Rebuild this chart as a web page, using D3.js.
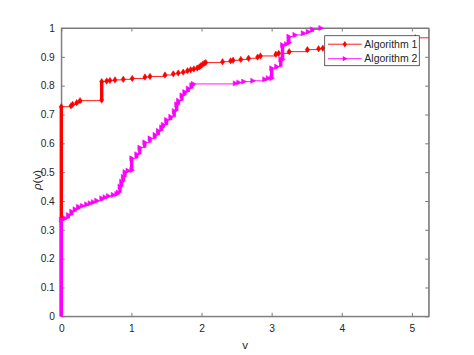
<!DOCTYPE html>
<html><head><meta charset="utf-8">
<script src="https://cdn.jsdelivr.net/npm/d3@7"></script>
<style>html,body{margin:0;padding:0;background:#fff;}svg{display:block;}</style>
</head><body>
<svg id="chart" width="474" height="355"></svg>
<script>
// ---- data ----
const seriesNames = ["Algorithm 1", "Algorithm 2"];
const xTicks = [0, 1, 2, 3, 4, 5];
const yTicks = [0, 0.1, 0.2, 0.3, 0.4, 0.5, 0.6, 0.7, 0.8, 0.9, 1];
const xMax = 5.24;

const alg1V   = [0, 0, 0.138, 0.162, 0.22, 0.267, 0.576, 0.576, 0.647, 0.694, 0.766, 0.884, 1.012, 1.193, 1.265, 1.479, 1.597, 1.668, 1.739, 1.80, 1.845, 1.89, 1.94, 1.97, 1.99, 2.016, 2.04, 2.06, 2.30, 2.415, 2.45, 2.56, 2.67, 2.80, 2.84, 3.06, 3.10, 3.25, 3.51, 3.67, 3.73, 4.2, 4.8, 5.05];
const alg1Rho = [0, 0.727, 0.730, 0.735, 0.741, 0.748, 0.750, 0.814, 0.816, 0.818, 0.820, 0.822, 0.825, 0.830, 0.832, 0.837, 0.841, 0.844, 0.847, 0.852, 0.855, 0.858, 0.861, 0.865, 0.869, 0.874, 0.878, 0.880, 0.883, 0.886, 0.888, 0.891, 0.895, 0.899, 0.903, 0.909, 0.912, 0.918, 0.925, 0.928, 0.930, 0.945, 0.958, 0.966];

const alg2V   = [0, 0, 0.053, 0.10, 0.148, 0.195, 0.243, 0.30, 0.36, 0.41, 0.456, 0.505, 0.576, 0.623, 0.67, 0.74, 0.79, 0.81, 0.837, 0.86, 0.884, 0.908, 0.95, 1.004, 1.004, 1.075, 1.12, 1.19, 1.265, 1.336, 1.383, 1.43, 1.454, 1.50, 1.56, 1.61, 1.645, 1.67, 1.72, 1.76, 1.81, 1.86, 1.88, 2.48, 2.53, 2.60, 2.73, 2.90, 2.95, 3.0, 3.0, 3.07, 3.13, 3.155, 3.155, 3.21, 3.245, 3.245, 3.33, 3.45, 3.52, 3.58, 3.70];
const alg2Rho = [0, 0.335, 0.340, 0.351, 0.363, 0.371, 0.380, 0.383, 0.388, 0.392, 0.396, 0.401, 0.409, 0.413, 0.417, 0.421, 0.424, 0.429, 0.450, 0.467, 0.484, 0.500, 0.505, 0.507, 0.548, 0.562, 0.585, 0.603, 0.617, 0.629, 0.643, 0.655, 0.664, 0.681, 0.692, 0.712, 0.735, 0.748, 0.766, 0.778, 0.790, 0.801, 0.806, 0.808, 0.811, 0.814, 0.817, 0.822, 0.826, 0.826, 0.860, 0.866, 0.891, 0.891, 0.941, 0.944, 0.950, 0.970, 0.976, 0.982, 0.987, 0.995, 1.0];

const colors = ["#ff0000", "#ff00ff"];

// ---- layout ----
const svg = d3.select("#chart");
const pL = 61.3, pR = 428.7, pT = 28, pB = 316.3;
const x = d3.scaleLinear().domain([0, xMax]).range([pL, pR]);
const y = d3.scaleLinear().domain([0, 1]).range([pB, pT]);
const axisColor = "#7a7a7a", textColor = "#262626";
const font = "'Liberation Sans', Arial, Helvetica, sans-serif";

// axes box + ticks
const gx = svg.append("g").attr("transform", `translate(0,${pB})`)
  .call(d3.axisBottom(x).tickValues(xTicks).tickSizeInner(-3.5).tickSizeOuter(0).tickPadding(8.5).tickFormat(d3.format("d")));
const gxt = svg.append("g").attr("transform", `translate(0,${pT})`)
  .call(d3.axisTop(x).tickValues(xTicks).tickSizeInner(-3.5).tickSizeOuter(0).tickFormat(""));
const gy = svg.append("g").attr("transform", `translate(${pL},0)`)
  .call(d3.axisLeft(y).tickValues(yTicks).tickSizeInner(-3.5).tickSizeOuter(0).tickPadding(6.5).tickFormat(d => d === 0 ? "0" : d === 1 ? "1" : d3.format(".1f")(d)));
const gyr = svg.append("g").attr("transform", `translate(${pR},0)`)
  .call(d3.axisRight(y).tickValues(yTicks).tickSizeInner(-3.5).tickSizeOuter(0).tickFormat(""));
[gx, gxt, gy, gyr].forEach(g => {
  g.selectAll("path.domain").attr("stroke", axisColor).attr("stroke-width", 1);
  g.selectAll(".tick line").attr("stroke", axisColor).attr("stroke-width", 1);
  g.selectAll(".tick text").attr("fill", textColor).attr("font-size", 10.2).attr("font-family", font);
});
svg.append("rect").attr("x", pL).attr("y", pT).attr("width", pR - pL).attr("height", pB - pT)
  .attr("fill", "none").attr("stroke", axisColor).attr("stroke-width", 1);

// labels
svg.append("text").attr("x", (pL + pR) / 2).attr("y", 349).attr("text-anchor", "middle")
  .attr("font-family", font).attr("font-size", 11.5).attr("fill", textColor).text("v");
const yl = svg.append("text").attr("transform", `translate(41,180) rotate(-90)`)
  .attr("text-anchor", "middle").attr("font-family", font).attr("font-size", 11.5).attr("fill", textColor);
yl.append("tspan").attr("font-style", "italic").text("ρ");
yl.append("tspan").text("(v)");

// markers
const diamond = (cx, cy) => `M${cx},${cy - 3.2}L${cx + 2.1},${cy}L${cx},${cy + 3.2}L${cx - 2.1},${cy}Z`;
const triRight = (cx, cy) => `M${cx - 2},${cy - 2.6}L${cx + 2.8},${cy}L${cx - 2},${cy + 2.6}Z`;
const markerFns = [diamond, triRight];

function drawSeries(vs, rs, i, extendToEdge) {
  const pts = vs.map((v, k) => [v, rs[k]]);
  const linePts = extendToEdge ? pts.concat([[xMax, rs[rs.length - 1]]]) : pts;
  const line = d3.line().x(d => x(d[0])).y(d => y(d[1])).curve(d3.curveStepAfter);
  svg.append("path").attr("d", line(linePts)).attr("fill", "none")
    .attr("stroke", colors[i]).attr("stroke-width", 0.9);
  const g = svg.append("g");
  for (let k = 1; k < pts.length; k++) {
    if (pts[k][1] - pts[k - 1][1] > 0.003) {
      g.append("line").attr("x1", x(pts[k][0])).attr("x2", x(pts[k][0]))
        .attr("y1", y(pts[k - 1][1])).attr("y2", y(pts[k][1]))
        .attr("stroke", colors[i]).attr("stroke-width", 3.4);
    }
  }
  svg.append("g").selectAll("path").data(pts.slice(1)).join("path")
    .attr("d", d => markerFns[i](x(d[0]), y(d[1])))
    .attr("fill", colors[i]).attr("stroke", colors[i]).attr("stroke-width", 0.5);
}
drawSeries(alg1V, alg1Rho, 0, true);
drawSeries(alg2V, alg2Rho, 1, false);

// legend
const lg = svg.append("g");
lg.append("rect").attr("x", 324.7).attr("y", 35.7).attr("width", 94.6).attr("height", 30)
  .attr("fill", "#fff").attr("stroke", "#3a3a3a").attr("stroke-width", 0.8);
seriesNames.forEach((name, i) => {
  const ly = 44.2 + i * 14.5;
  lg.append("line").attr("x1", 328).attr("x2", 361.7).attr("y1", ly).attr("y2", ly)
    .attr("stroke", colors[i]).attr("stroke-width", 0.9);
  lg.append("path").attr("d", markerFns[i](344.8, ly)).attr("fill", colors[i]);
  lg.append("text").attr("x", 364.3).attr("y", ly + 3.7).attr("font-family", font)
    .attr("font-size", 10.5).attr("fill", textColor).text(name);
});
</script>
</body></html>
